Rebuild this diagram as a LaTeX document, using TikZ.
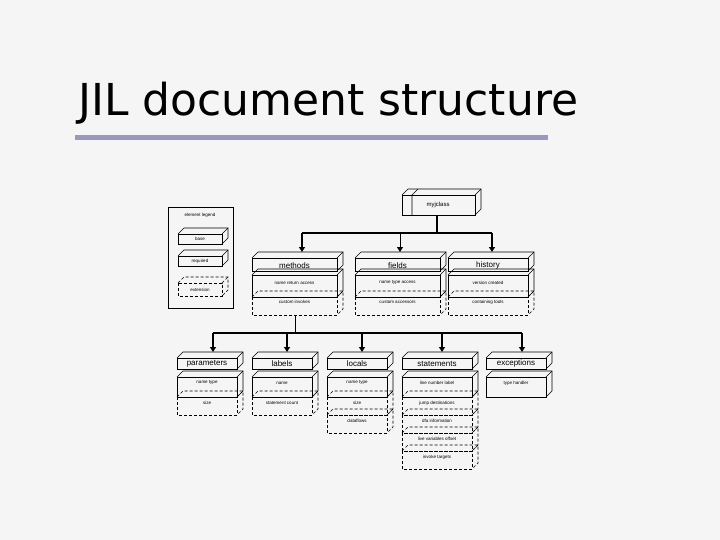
\documentclass[tikz,border=0pt]{standalone}
\usepackage{fontspec}
\setmainfont{Liberation Sans}
\newfontfamily\titlefont{DejaVu Sans}
\usetikzlibrary{arrows.meta}
\newcommand\cub[6]{%
  \draw[#6] (#2,#3) rectangle ++(#4,#5);
  \draw[#6] (#2,#3) -- ++(6,-6) -- ++(#4,0) -- ++(0,#5) -- ++(-6,6);
  \draw[#6] ({#2+#4},#3) -- ++(6,-6);
  \coordinate (#1) at ({#2+#4/2},{#3+#5/2});}
\tikzset{
  sol/.style={draw=black,line width=0.6pt},
  ext/.style={draw=black,line width=0.6pt,dash pattern=on 3pt off 2pt},
  tiny/.style={font=\fontsize{4.5}{5}\selectfont,inner sep=0pt},
  ttl/.style={font=\fontsize{8}{9}\selectfont,inner sep=0pt},
  conn/.style={line width=1.8pt},
  arr/.style={line width=1.8pt,-{Triangle[length=5pt,width=6pt]}}
}
\begin{document}
\begin{tikzpicture}[x=1pt,y=-1pt]
\fill[gray!8] (0,0) rectangle (720,540);
\useasboundingbox (0,0) rectangle (720,540);
\node[anchor=base west,inner sep=0pt,font=\titlefont\fontsize{44}{46}\selectfont] (title) at (78,116) {JIL document structure};
\fill[black!25!blue!35!gray!60] (75,135) rectangle (548,140);
% root
\cub{root}{402}{195}{73}{20}{sol}
\draw[sol] (412,195) -- (412,215) (412,195) -- (418,189);
\node[tiny,font=\fontsize{6}{7}\selectfont] (roott) at (438,205) {myjclass};
% legend
\draw[sol] (168,207) rectangle (233,308);
\node[tiny] (legt) at (200,215) {element legend};
\cub{lb}{178}{234}{44}{10}{sol}\node[tiny] (lbt) at (lb) {base};
\cub{lr}{178}{256}{44}{10}{sol}\node[tiny] (lrt) at (lr) {required};
\cub{le}{178}{283}{44}{13}{ext}\node[tiny] (let) at (le) {extension};
% level 1
\foreach \n/\x/\w/\t/\r/\e in {m/252/85/methods/name return access/custom invokes,
  f/355/85/fields/name type access/custom accessors,
  h/448/80/history/version created/containing tools}{
  \cub{\n t}{\x}{258}{\w}{13}{sol}
  \cub{\n r}{\x}{275}{\w}{22}{sol}
  \cub{\n e}{\x}{297}{\w}{18}{ext}
  \node[ttl] (\n tt) at ([yshift=-1]\n t) {\t};
  \node[tiny] (\n rt) at ([yshift=3]\n r) {\r};
  \node[tiny] (\n et) at ([yshift=4]\n e) {\e};
}
% level 2
\foreach \n/\x/\w/\t in {p/177/60/parameters,l/252/60/labels,o/327/60/locals,s/402/70/statements,x/486/60/exceptions}{
  \cub{\n t}{\x}{358}{\w}{11}{sol}
  \node[ttl] (\n tt) at (\n t) {\t};
}
\cub{pr}{177}{377}{60}{20}{sol}\node[tiny] (prt) at ([yshift=4]pr) {name type};
\cub{pe}{177}{397}{60}{18}{ext}\node[tiny] (pet) at ([yshift=3]pe) {size};
\cub{lr2}{252}{377}{60}{20}{sol}\node[tiny] (lrt2) at ([yshift=4]lr2) {name};
\cub{le2}{252}{397}{60}{18}{ext}\node[tiny] (let2) at ([yshift=3]le2) {statement count};
\cub{or}{327}{377}{60}{20}{sol}\node[tiny] (ort) at ([yshift=4]or) {name type};
\cub{oe1}{327}{397}{60}{18}{ext}\node[tiny] (oet1) at ([yshift=3]oe1) {size};
\cub{oe2}{327}{415}{60}{18}{ext}\node[tiny] (oet2) at ([yshift=3]oe2) {dataflows};
\cub{sr}{402}{377}{70}{20}{sol}\node[tiny] (srt) at ([yshift=4]sr) {line number label};
\cub{se1}{402}{397}{70}{18}{ext}\node[tiny] (set1) at ([yshift=3]se1) {jump destinations};
\cub{se2}{402}{415}{70}{18}{ext}\node[tiny] (set2) at ([yshift=3]se2) {dfa information};
\cub{se3}{402}{433}{70}{18}{ext}\node[tiny] (set3) at ([yshift=3]se3) {live variables offset};
\cub{se4}{402}{451}{70}{18}{ext}\node[tiny] (set4) at ([yshift=3]se4) {invoke targets};
\cub{xr}{486}{377}{60}{20}{sol}\node[tiny] (xrt) at ([yshift=4]xr) {type handler};
% connectors
\coordinate (r0) at (437,215); \coordinate (r1) at (437,233);
\coordinate (b1) at (302,233); \coordinate (b2) at (400,233); \coordinate (b3) at (492,233);
\coordinate (t1) at (302,252); \coordinate (t2) at (400,252); \coordinate (t3) at (492,252);
\draw[conn] (r0) -- (r1);
\draw[conn] (b1) -- (b3);
\draw[arr] (b1) -- (t1); \draw[arr,line width=1pt] (b2) -- (t2); \draw[arr] (b3) -- (t3);
\coordinate (m0) at (295,315); \coordinate (m1) at (295,333);
\draw[line width=1pt] (m0) -- (m1);
\coordinate (c1) at (213,333); \coordinate (c5) at (522,333);
\draw[conn] (c1) -- (c5);
\foreach \i/\x in {1/213,2/287,3/362,4/442,5/522}{
  \coordinate (u\i) at (\x,333); \coordinate (d\i) at (\x,352);
  \draw[arr] (u\i) -- (d\i);}
\end{tikzpicture}
\end{document}
